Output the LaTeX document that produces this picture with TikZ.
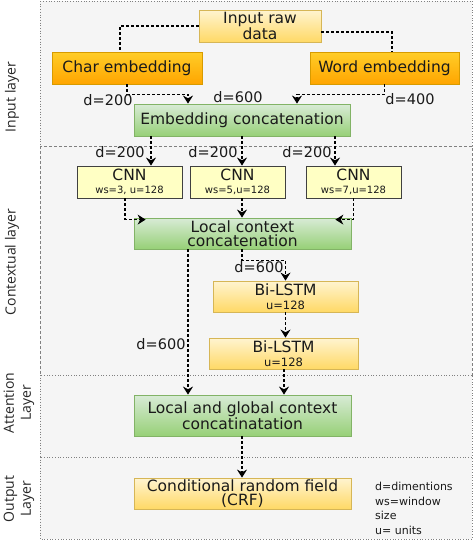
\documentclass[tikz,border=0pt]{standalone}
\usepackage{fontspec}
\setmainfont{DejaVu Sans}
\newfontfamily\layerfont{Open Sans}
\usetikzlibrary{arrows.meta}

\definecolor{yeltop}{HTML}{FFF4D0}
\definecolor{yelbot}{HTML}{FFD966}
\definecolor{yelline}{HTML}{D6B656}
\definecolor{orgtop}{HTML}{FFCD28}
\definecolor{orgbot}{HTML}{FFA500}
\definecolor{orgline}{HTML}{D79B00}
\definecolor{grntop}{HTML}{D8EBD6}
\definecolor{grnbot}{HTML}{97D077}
\definecolor{grnline}{HTML}{82B366}
\definecolor{cnnfill}{HTML}{FFFFC4}
\definecolor{layerbg}{HTML}{F5F5F5}
\definecolor{layerline}{HTML}{808080}
\definecolor{txt}{HTML}{1A1A1A}

\newcommand{\bigtxt}{\fontsize{15.5}{14.5}\selectfont}
\newcommand{\smalltxt}{\fontsize{10}{11}\selectfont}

\begin{document}
\begin{tikzpicture}[x=1pt,y=-1pt,
	every node/.style={text=txt},
	box/.style={inner sep=0pt, minimum height=32pt, align=center, font=\bigtxt, line width=0.8pt},
	lightbox/.style={box, draw=yelline, top color=yeltop, bottom color=yelbot},
	orangebox/.style={box, draw=orgline, top color=orgtop, bottom color=orgbot},
	greenbox/.style={box, draw=grnline, top color=grntop, bottom color=grnbot},
	cnnbox/.style={box, draw=black!75, fill=cnnfill},
	layer/.style={draw=layerline, fill=layerbg, line width=0.7pt},
	layerlab/.style={rotate=90, align=center, font=\layerfont\fontsize{14}{17}\selectfont, text=black!85},
	dline/.style={line width=1.1pt, dash pattern=on 3pt off 2pt},
	arr/.style={dline, -{Stealth[length=8pt,width=10pt]}},
	dlab/.style={font=\fontsize{14.5}{14.5}\selectfont, inner sep=0pt}]

	\useasboundingbox (0,0) rectangle (474,542);

	% layers
	\draw[layer, dotted] (40,1) rectangle (472,146);
	\draw[layer, dash pattern=on 3pt off 2pt] (40,146) rectangle (472,375);
	\draw[layer, dotted] (40,375) rectangle (472,457);
	\draw[layer, dotted] (40,457) rectangle (472,539);

	\node[layerlab] (linp) at (12,97) {Input layer};
	\node[layerlab] (lctx) at (12,262) {Contextual layer};
	\node[layerlab] (latt) at (19,403) {Attention\\Layer};
	\node[layerlab] (lout) at (19,499) {Output\\Layer};

	% input layer
	\node[lightbox, minimum width=122pt] (raw) at (260,26) {Input raw\\data};
	\node[orangebox, minimum width=150pt] (char) at (127,68) {Char embedding};
	\node[orangebox, minimum width=149pt] (word) at (384.5,68) {Word embedding};
	\node[greenbox, minimum width=216pt] (emb) at (242,120) {Embedding concatenation};

	\draw[dline] (raw.west) -| ([xshift=-7pt]char.north);
	\draw[dline] ([yshift=-6pt]raw.east) -| ([xshift=7.5pt]word.north);
	\draw[arr] (char.south) -- ++(0,10) -| ([xshift=-54pt]emb.north);
	\draw[arr] (word.south) -- ++(0,10) -| ([xshift=55pt]emb.north);

	\node[dlab] (d1) at (108,100) {d=200};
	\node[dlab] (d2) at (238,97) {d=600};
	\node[dlab] (d3) at (410,99) {d=400};

	% contextual layer
	\node[cnnbox, minimum width=105pt] (cnnA) at (129.5,182) {CNN\\[-1pt]{\smalltxt ws=3, u=128}};
	\node[cnnbox, minimum width=95pt] (cnnB) at (237.5,182) {CNN\\[-1pt]{\smalltxt ws=5,u=128}};
	\node[cnnbox, minimum width=95pt] (cnnC) at (353.5,182) {CNN\\[-1pt]{\smalltxt ws=7,u=128}};

	\draw[arr] ([xshift=-91pt]emb.south) -- ([xshift=-91pt]emb.south |- cnnA.north);
	\draw[arr] (emb.south) -- (emb.south |- cnnB.north);
	\draw[arr] ([xshift=93pt]emb.south) -- ([xshift=93pt]emb.south |- cnnC.north);

	\node[dlab] (d4) at (120,152) {d=200};
	\node[dlab] (d5) at (213,152) {d=200};
	\node[dlab] (d6) at (307,152) {d=200};

	\node[greenbox, minimum width=217pt, minimum height=31pt] (loc) at (242.5,233.5) {Local context\\concatenation};

	\draw[arr] ([xshift=-4.5pt]cnnA.south) |- ([xshift=12pt,yshift=-2pt]loc.north west);
	\draw[arr] ([xshift=4.5pt]cnnB.south) -- ([xshift=4.5pt]cnnB.south |- loc.north);
	\draw[arr] (cnnC.south) |- ([xshift=-16pt,yshift=-2pt]loc.north east);

	\node[lightbox, minimum width=145pt, minimum height=31pt] (lstmA) at (285.5,296.5) {Bi-LSTM\\[-1pt]{\fontsize{11.5}{12}\selectfont u=128}};
	\node[lightbox, minimum width=149pt, minimum height=31pt] (lstmB) at (283.5,353.5) {Bi-LSTM\\[-1pt]{\fontsize{11.5}{12}\selectfont u=128}};

	\draw[arr] ([xshift=-0.5pt]loc.south) -- ++(0,11) -| (lstmA.north);
	\node[dlab] (d7) at (259,267) {d=600};
	\draw[arr] (lstmA.south) -- (lstmA.south |- lstmB.north);

	% attention layer
	\node[greenbox, minimum width=217pt, minimum height=41pt] (att) at (242.5,415.5) {Local and global context\\concatinatation};

	\draw[arr] ([xshift=-54.5pt]loc.south) -- ([xshift=-54.5pt]loc.south |- att.north);
	\node[dlab] (d8) at (161,344) {d=600};
	\draw[arr] ([xshift=0.5pt]lstmB.south) -- ([xshift=0.5pt]lstmB.south |- att.north);

	% output layer
	\node[lightbox, minimum width=217pt, minimum height=31pt] (crf) at (242.5,493.5) {Conditional random field\\(CRF)};
	\draw[arr] ([xshift=-0.5pt]att.south) -- ([xshift=-0.5pt]att.south |- crf.north);

	\node[anchor=north west, align=left, inner sep=0pt, font=\fontsize{11}{14.5}\selectfont] (legend) at (375,482) {d=dimentions\\ws=window\\size\\u= units};

\end{tikzpicture}
\end{document}
